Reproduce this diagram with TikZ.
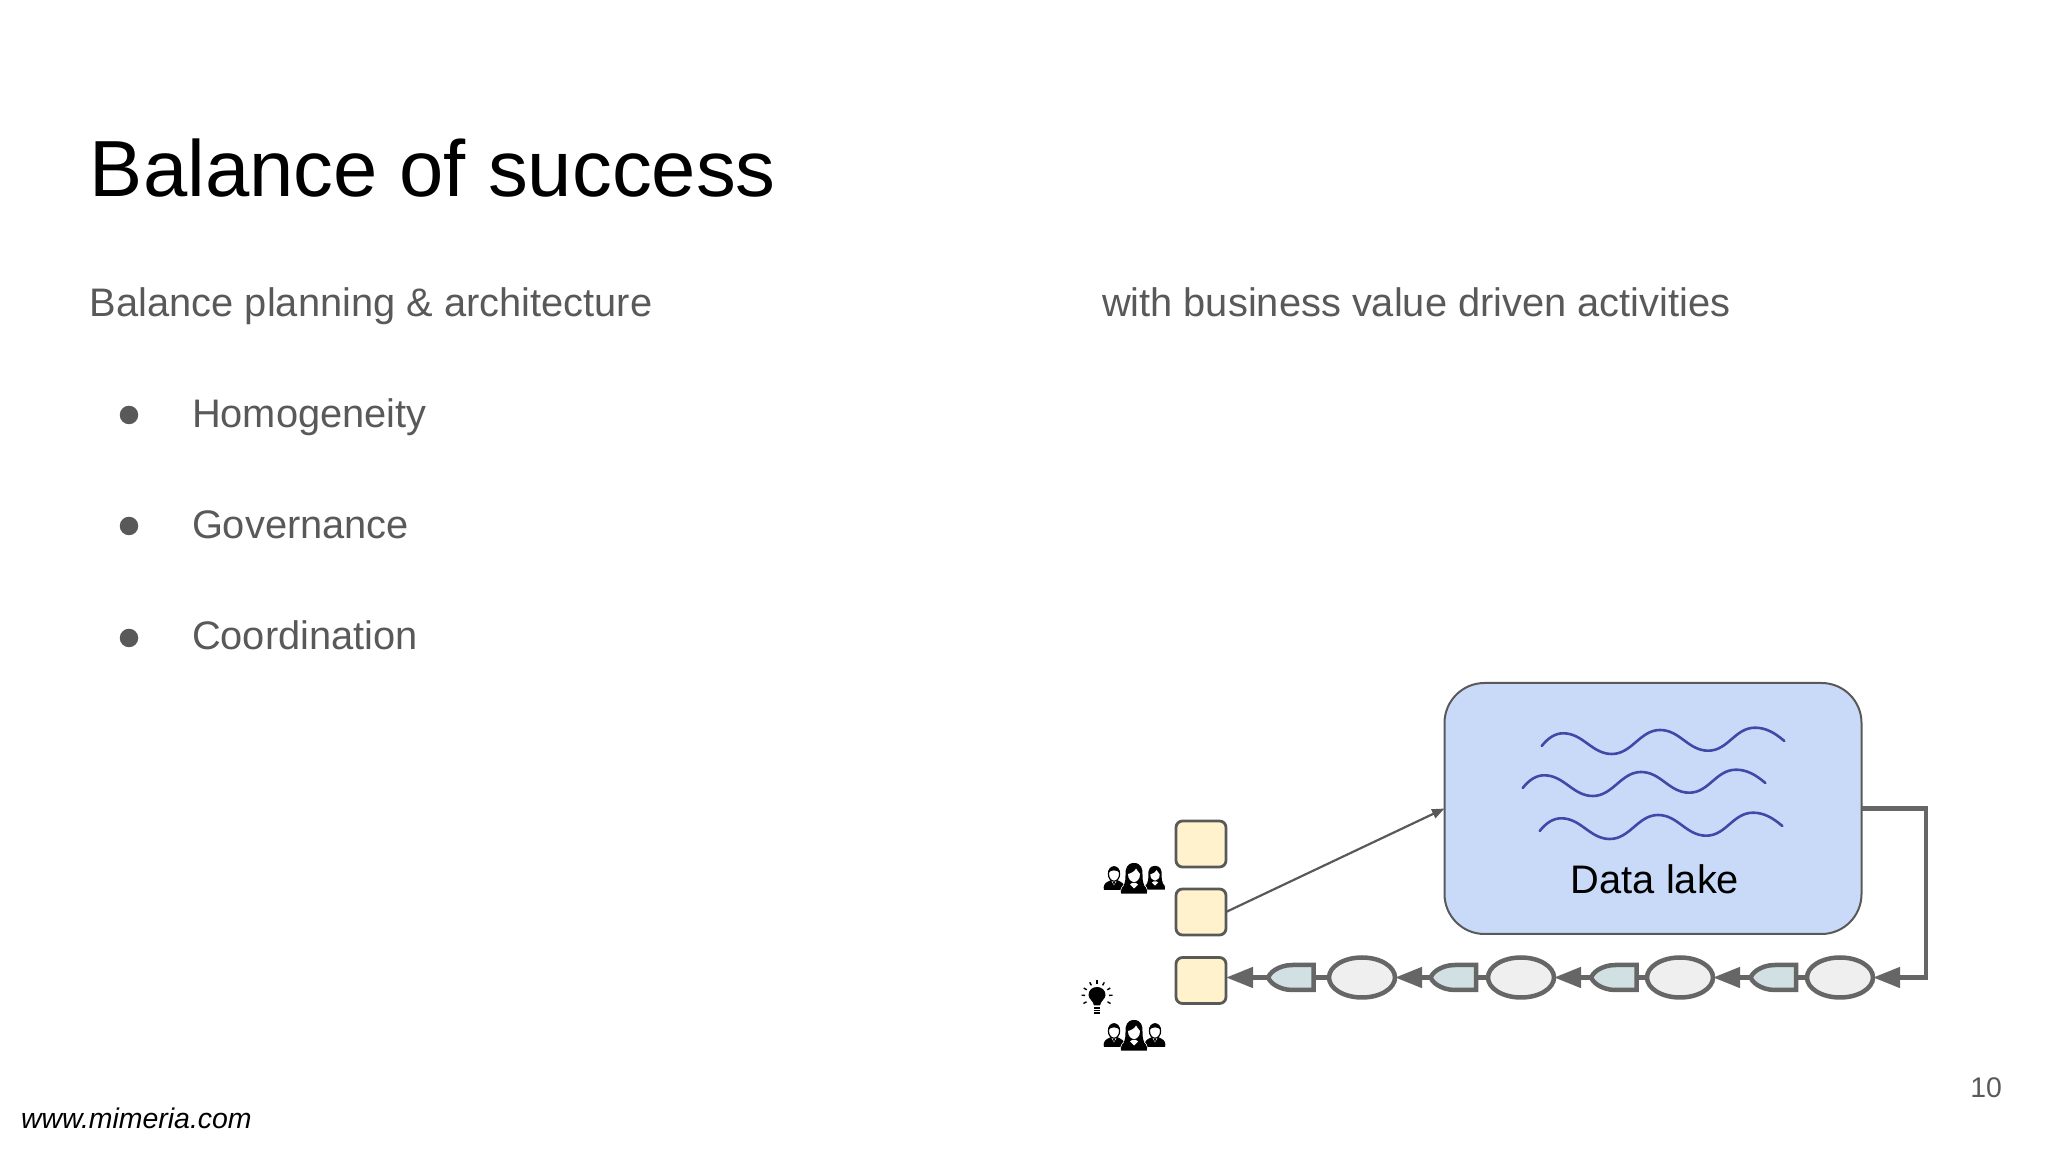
\documentclass[tikz,border=0pt]{standalone}
\usepackage{fontspec}
\setmainfont{Liberation Sans}
\usetikzlibrary{arrows.meta,shapes.geometric}
\definecolor{bodygray}{HTML}{595959}
\definecolor{linegray}{HTML}{666666}
\definecolor{lakefill}{HTML}{C9DAF8}
\definecolor{wavecol}{HTML}{3F4AA8}
\definecolor{boxfill}{HTML}{FFF2CC}
\definecolor{ovalfill}{HTML}{EFEFEF}
\definecolor{delayfill}{HTML}{D0E0E3}
\tikzset{
  every node/.style={inner sep=0pt,outer sep=0pt},
  titletext/.style={anchor=base west,font=\fontsize{22.65}{27}\selectfont,text=black},
  bodytext/.style={anchor=base west,font=\fontsize{11.33}{14}\selectfont,text=bodygray},
  dot/.style={circle,fill=bodygray,minimum size=1.85mm},
  lake/.style={rectangle,draw=bodygray,fill=lakefill,line width=.2mm,rounded corners=4mm,minimum width=41.7mm,minimum height=25.1mm},
  wave/.style={draw=wavecol,line width=.26mm,line cap=round},
  ybox/.style={rectangle,draw=bodygray,fill=boxfill,line width=.28mm,rounded corners=.65mm,minimum width=5mm,minimum height=4.6mm},
  oval/.style={ellipse,draw=linegray,fill=ovalfill,line width=.45mm,minimum width=6.6mm,minimum height=4mm},
  delaybox/.style={rectangle,minimum width=4.5mm,minimum height=2.5mm},
  delayline/.style={draw=linegray,fill=delayfill,line width=.45mm,line join=miter},
  conn/.style={draw=linegray,line width=.45mm},
  bigarrow/.style={conn,-{Triangle[length=2.7mm,width=2mm]}},
  thinarrow/.style={draw=bodygray,line width=.22mm,-{Triangle[length=1.25mm,width=.95mm]}},
  manfig/.pic={
    \fill[black] (-10,0) .. controls (-11,-3) and (-10,-7) .. (-6,-8.5) -- (-3,-10) -- (3,-10) -- (6,-8.5) .. controls (10,-7) and (11,-3) .. (10,0) -- cycle;
    \fill[white] (-3,-10) -- (0,-4.5) -- (3,-10) -- cycle;
    \fill[black] (-1,-8) -- (1,-8) -- (0,-4) -- cycle;
    \draw[fill=white,draw=black,line width=.12mm] (0,-16) ellipse [x radius=5.6,y radius=7.2];
    \fill[black] (-5.8,-17) .. controls (-6,-21) and (-3,-23.5) .. (0,-23.5) .. controls (3,-23.5) and (6,-21) .. (5.8,-17) .. controls (3,-20.5) and (-3,-20.5) .. (-5.8,-17) -- cycle;
  },
  womanfig/.pic={
    \fill[black,draw=white,line width=.06mm] (-13.5,0) .. controls (-14,-5) and (-12,-9) .. (-7,-11) -- (7,-11) .. controls (12,-9) and (14,-5) .. (13.5,0) -- cycle;
    \fill[black] (0,-31) .. controls (-7,-31) and (-9,-25) .. (-8.5,-19) .. controls (-8.5,-14) and (-9,-11) .. (-10,-9) -- (10,-9) .. controls (9,-11) and (8.5,-14) .. (8.5,-19) .. controls (9,-25) and (7,-31) .. (0,-31) -- cycle;
    \fill[white] (-6,-20) .. controls (-2,-21) and (1,-23) .. (2,-25.5) .. controls (3,-23) and (5,-22) .. (6,-20) .. controls (6,-15) and (3,-12) .. (0,-12) .. controls (-3,-12) and (-6,-15) .. (-6,-20) -- cycle;
    \fill[white] (-4,-9.5) -- (0,-5.5) -- (4,-9.5) -- (2,-11) -- (-2,-11) -- cycle;
  },
  bulbfig/.pic={
    \fill[black] (-3,9.5) .. controls (-3.5,5) and (-8.5,3) .. (-8.5,-1) .. controls (-8.5,-6) and (-4.5,-9) .. (0,-9) .. controls (4.5,-9) and (8.5,-6) .. (8.5,-1) .. controls (8.5,3) and (3.5,5) .. (3,9.5) -- cycle;
    \foreach \yy in {11,13.6,16.2} \fill[black] (-3,\yy) rectangle (3,\yy+1.6);
    \foreach \ang in {90,62,31,3,-29,118,149,177,209}
      \draw[black,line width=.14mm] (\ang:12 and -12) -- (\ang:15.5 and -15.5);
  },
}
\begin{document}
\begin{tikzpicture}[x=.1mm,y=-.1mm]
\useasboundingbox (0,0) rectangle (2048,1152);
% text
\node[titletext] (title) at (90,197) {Balance of success};
\node[bodytext] (left) at (90,316.5) {Balance planning \& architecture};
\node[bodytext] (right) at (1102,316.5) {with business value driven activities};
\node[dot] (b1) at (129,415) {};
\node[bodytext] (i1) at (192,427.5) {Homogeneity};
\node[dot] (b2) at (129,526) {};
\node[bodytext] (i2) at (192,539) {Governance};
\node[dot] (b3) at (129,638) {};
\node[bodytext] (i3) at (192,649.5) {Coordination};
\node[anchor=base west,font=\fontsize{8.09}{10}\selectfont\itshape,text=black] (web) at (21,1129) {www.mimeria.com};
\node[anchor=base east,font=\fontsize{8.09}{10}\selectfont,text=bodygray] (page) at (2002,1098) {10};
% data lake
\node[lake] (lake) at (1653,808.5) {};
\foreach \dx/\dy in {0/0,-19/42,-2/85}{
  \draw[wave,shift={(\dx,\dy)}] (1541.7,746) .. controls (1548,738) and (1555,733.3) .. (1563.3,733.3)
    .. controls (1583,733.3) and (1592,754) .. (1611.7,754)
    .. controls (1632,754) and (1640,730) .. (1660,730)
    .. controls (1680,730) and (1688,750.7) .. (1708.3,750.7)
    .. controls (1728,750.7) and (1735,727.7) .. (1755,727.7)
    .. controls (1766,727.7) and (1775,733) .. (1784.3,741);
}
\node[font=\fontsize{11.33}{14}\selectfont,anchor=base,text=black] (laketext) at (1655,894) {Data lake};
% yellow boxes
\node[ybox] (ya) at (1201,844) {};
\node[ybox] (yb) at (1201,912) {};
\node[ybox] (yc) at (1201,980.5) {};
% chain
\node[oval] (e1) at (1362,977.5) {};
\node[oval] (e2) at (1521,977.5) {};
\node[oval] (e3) at (1680,977.5) {};
\node[oval] (e4) at (1840,977.5) {};
\node[delaybox] (d1) at (1291,977.5) {};
\node[delaybox] (d2) at (1453.5,977.5) {};
\node[delaybox] (d3) at (1614,977.5) {};
\node[delaybox] (d4) at (1773.5,977.5) {};
\coordinate (turn) at (1926,808.5);
\draw[thinarrow] (yb.east) -- (lake.west);
\draw[bigarrow] (lake.east) -- (turn) |- (e4.east);
\draw[conn] (e4.west) -- (d4.east);
\draw[bigarrow] (d4.west) -- (e3.east);
\draw[conn] (e3.west) -- (d3.east);
\draw[bigarrow] (d3.west) -- (e2.east);
\draw[conn] (e2.west) -- (d2.east);
\draw[bigarrow] (d2.west) -- (e1.east);
\draw[conn] (e1.west) -- (d1.east);
\draw[bigarrow] (d1.west) -- (yc.east |- d1.west);
\foreach \dn in {d1,d2,d3,d4}{
  \draw[delayline] (\dn.north east) -- (\dn.south east) -- ([xshift=2.4mm]\dn.south west)
    .. controls ([xshift=.9mm]\dn.south west) and ([yshift=.9mm]\dn.south west) .. (\dn.west)
    .. controls ([yshift=-.9mm]\dn.north west) and ([xshift=.9mm]\dn.north west) .. ([xshift=2.4mm]\dn.north west) -- cycle;
}
% people and bulb
\pic at (1114,890) {manfig};
\pic[scale=.78] at (1155,890) {womanfig};
\pic at (1134,894) {womanfig};
\pic at (1097,996) {bulbfig};
\pic at (1114,1047) {manfig};
\pic at (1155,1047) {manfig};
\pic at (1134,1051) {womanfig};
\end{tikzpicture}
\end{document}
